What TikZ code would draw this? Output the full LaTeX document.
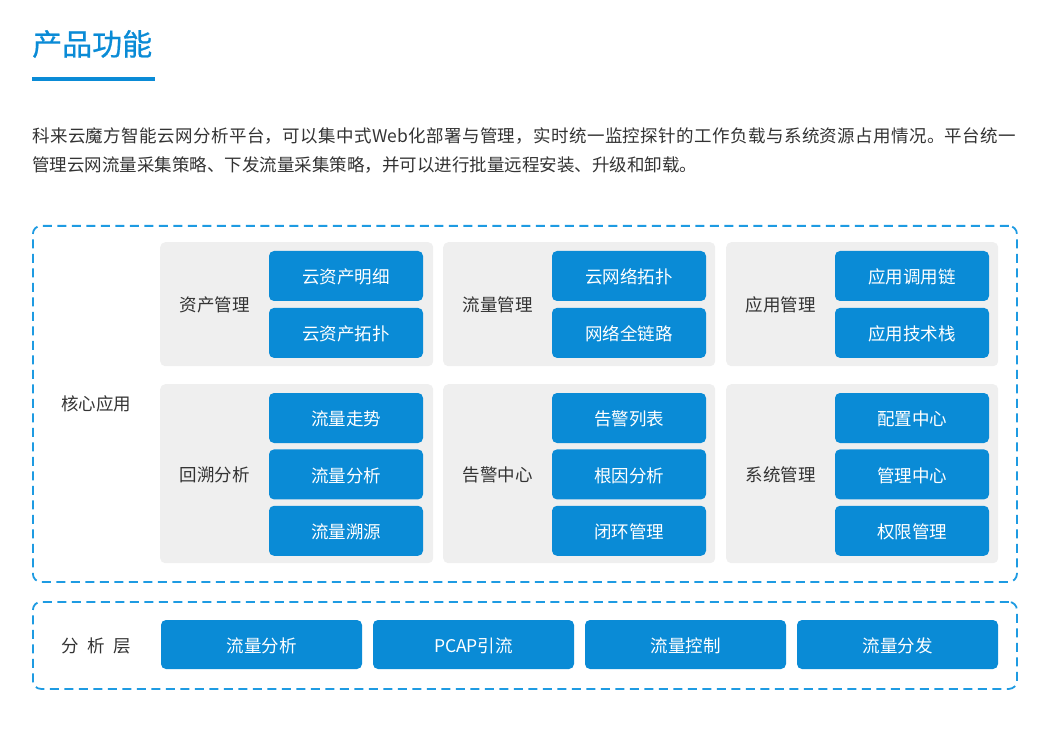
\documentclass[tikz,border=0pt]{standalone}
\usepackage{fontspec}
\setmainfont{Noto Sans CJK SC}
\newfontfamily\ttlfont[FakeBold=0.6]{Noto Sans CJK SC}
\XeTeXlinebreaklocale "zh"
\XeTeXlinebreakskip=0pt plus 1pt
\usetikzlibrary{positioning}
\definecolor{ink}{HTML}{333333}
\definecolor{cblue}{HTML}{0A8BD6}
\definecolor{dblue}{HTML}{1E9BE2}
\definecolor{faint}{HTML}{EFEFEF}
\tikzset{
  every picture/.style={font=\fontsize{17.5}{21}\selectfont,text=ink},
  panel/.style={fill=faint,rounded corners=5pt,anchor=north west,inner sep=0pt},
  bx/.style={fill=cblue,text=white,rounded corners=5pt,minimum width=154pt,minimum height=50pt,inner sep=0pt,text height=17pt,text depth=1.2pt},
  bxw/.style={bx,minimum width=201pt,minimum height=49pt},
  layer/.style={draw=dblue,line width=1.8pt,dash pattern=on 9pt off 5.5pt,rounded corners=8pt,anchor=north west,inner sep=0pt},
  lab/.style={text=ink,text height=17pt,text depth=1.2pt},
}
\begin{document}
\begin{tikzpicture}[x=1pt,y=-1pt]
  \useasboundingbox (0,0) rectangle (1045,730);
  % title
  \node[anchor=west,inner sep=0pt,text=cblue,font=\ttlfont\fontsize{30}{34}\selectfont] (ttl) at (32,44) {产品功能};
  \fill[cblue] (32,77.5) rectangle (155,81);
  \node[anchor=north west,inner sep=0pt,text width=984pt,align=justify,font=\fontsize{17.5}{29}\selectfont] (txt) at (32,127)
    {科来云魔方智能云网分析平台，可以集中式Web化部署与管理，实时统一监控探针的工作负载与系统资源占用情况。平台统一\linebreak
     管理云网流量采集策略、下发流量采集策略，并可以进行批量远程安装、升级和卸载。};

  % core layer
  \node[layer,minimum width=984pt,minimum height=356pt] (core) at (32,225) {};
  \node[lab] (corel) at (96,403) {核心应用};

  \node[panel,minimum width=273pt,minimum height=124pt] (p1) at (160,242) {};
  \node[panel,minimum width=272pt,minimum height=124pt] (p2) at (443,242) {};
  \node[panel,minimum width=272pt,minimum height=124pt] (p3) at (726,242) {};
  \node[panel,minimum width=273pt,minimum height=179pt] (p4) at (160,384) {};
  \node[panel,minimum width=272pt,minimum height=179pt] (p5) at (443,384) {};
  \node[panel,minimum width=272pt,minimum height=179pt] (p6) at (726,384) {};

  \node[bx] (a1) at (346,276) {云资产明细};
  \node[bx,below=6.5pt of a1] (a2) {云资产拓扑};
  \node[lab] at (214.5,304) {资产管理};

  \node[bx] (b1) at (629,276) {云网络拓扑};
  \node[bx,below=6.5pt of b1] (b2) {网络全链路};
  \node[lab] at (497.5,304) {流量管理};

  \node[bx] (c1) at (912,276) {应用调用链};
  \node[bx,below=6.5pt of c1] (c2) {应用技术栈};
  \node[lab] at (780.5,304) {应用管理};

  \node[bx] (d1) at (346,418) {流量走势};
  \node[bx,below=6pt of d1] (d2) {流量分析};
  \node[bx,below=6pt of d2] (d3) {流量溯源};
  \node[lab] at (214.5,474) {回溯分析};

  \node[bx] (e1) at (629,418) {告警列表};
  \node[bx,below=6pt of e1] (e2) {根因分析};
  \node[bx,below=6pt of e2] (e3) {闭环管理};
  \node[lab] at (497.5,474) {告警中心};

  \node[bx] (f1) at (912,418) {配置中心};
  \node[bx,below=6pt of f1] (f2) {管理中心};
  \node[bx,below=6pt of f2] (f3) {权限管理};
  \node[lab] at (780.5,474) {系统管理};

  % analysis layer
  \node[layer,minimum width=984pt,minimum height=87pt] (ana) at (32,601) {};
  \node[lab] (anal) at (96,645) {分\hspace{0.5em}析\hspace{0.5em}层};
  \node[bxw] (g1) at (261.5,644.5) {流量分析};
  \node[bxw] (g2) at (473.5,644.5) {PCAP引流};
  \node[bxw] (g3) at (685.5,644.5) {流量控制};
  \node[bxw] (g4) at (897.5,644.5) {流量分发};
\end{tikzpicture}
\end{document}
